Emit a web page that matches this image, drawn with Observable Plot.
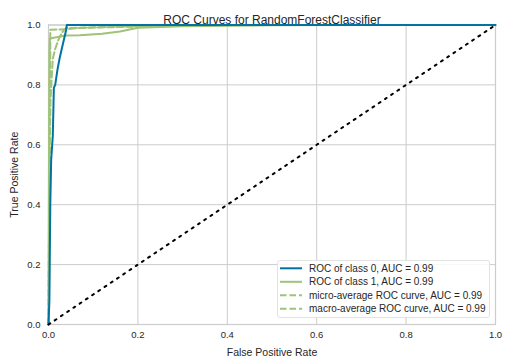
<!DOCTYPE html>
<html>
<head>
<meta charset="utf-8">
<script src="https://cdn.jsdelivr.net/npm/d3@7"></script>
<script src="https://cdn.jsdelivr.net/npm/@observablehq/plot@0.6"></script>
<style>
  html, body { margin: 0; padding: 0; background: #ffffff; }
  #wrap { position: relative; width: 512px; height: 361px; font-family: "Liberation Sans", Arial, sans-serif; }
  #legend { position: absolute; left: 277px; top: 260px; width: 213px; height: 58px;
            background: rgba(255,255,255,0.85); border: 1px solid #e3e3e3; border-radius: 3px; box-sizing: border-box; }
</style>
</head>
<body>
<div id="wrap"></div>
<script>
// ---- data ----
const title = "ROC Curves for RandomForestClassifier";
const xLabel = "False Positive Rate";
const yLabel = "True Positive Rate";
const tickValues = [0, 0.2, 0.4, 0.6, 0.8, 1.0];

const seriesNames = [
  "ROC of class 0, AUC = 0.99",
  "ROC of class 1, AUC = 0.99",
  "micro-average ROC curve, AUC = 0.99",
  "macro-average ROC curve, AUC = 0.99"
];
const seriesColors = ["#0272a2", "#9fc377", "#9fc377", "#9fc377"];
const seriesDash = [null, null, "6.5,3", "6.5,3"];

const fpr0 = [0, 0.002, 0.004, 0.006, 0.0096, 0.012, 0.015, 0.02, 0.025, 0.034, 0.039, 0.041, 1];
const tpr0 = [0, 0.08, 0.40, 0.55, 0.63, 0.79, 0.80, 0.85, 0.89, 0.948, 0.98, 1.0, 1];

const fpr1 = [0, 0.001, 0.002, 0.003, 0.038, 0.07, 0.12, 0.16, 0.2, 0.3, 0.5, 0.7, 1];
const tpr1 = [0, 0.5, 0.9, 0.955, 0.965, 0.966, 0.971, 0.978, 0.991, 0.996, 0.999, 1.0, 1];

const fprMicro = [0, 0.001, 0.002, 0.003, 0.004, 0.004, 0.04, 0.07, 0.2, 0.4, 1];
const tprMicro = [0, 0.3, 0.6, 0.8, 0.9, 0.984, 0.986, 0.99, 0.995, 1.0, 1];

const fprMacro = [0, 0.003, 0.0045, 0.007, 0.0096, 0.015, 0.022, 0.03, 0.04, 0.2, 0.4, 1];
const tprMacro = [0, 0.6, 0.75, 0.82, 0.887, 0.92, 0.95, 0.975, 0.99, 0.996, 1.0, 1];

const chanceFpr = [0, 1];
const chanceTpr = [0, 1];

// ---- build tables ----
const curves = [
  [fpr0, tpr0], [fpr1, tpr1], [fprMicro, tprMicro], [fprMacro, tprMacro]
].map(([xs, ys], i) => xs.map((x, j) => ({x, y: ys[j], s: seriesNames[i]})));
const chance = chanceFpr.map((x, j) => ({x, y: chanceTpr[j]}));

const lineMark = (i) => Plot.line(curves[i], {
  x: "x", y: "y", stroke: seriesColors[i], strokeWidth: 2,
  strokeDasharray: seriesDash[i] || undefined, curve: "linear"
});

const chart = Plot.plot({
  width: 512,
  height: 361,
  marginLeft: 48,
  marginRight: 17,
  marginTop: 24.5,
  marginBottom: 37,
  style: { fontFamily: "'Liberation Sans', Arial, sans-serif", fontSize: "10px", color: "#262626", background: "#ffffff" },
  x: { domain: [0, 1] },
  y: { domain: [0, 1] },
  marks: [
    Plot.gridX(tickValues, { stroke: "#cccccc", strokeOpacity: 1, strokeWidth: 1 }),
    Plot.gridY(tickValues, { stroke: "#cccccc", strokeOpacity: 1, strokeWidth: 1 }),
    Plot.frame({ stroke: "#cccccc", strokeWidth: 1.2 }),
    Plot.axisX(tickValues, { tickSize: 0, tickPadding: 7, tickFormat: d => d.toFixed(1), fontSize: 9.5, label: null }),
    Plot.axisY(tickValues, { tickSize: 0, tickPadding: 8, tickFormat: d => d.toFixed(1), fontSize: 9.5, label: null }),
    Plot.axisX({ ticks: [], tickSize: 0, label: xLabel, labelAnchor: "center", labelArrow: "none", labelOffset: 31, fontSize: 10.5 }),
    Plot.axisY({ ticks: [], tickSize: 0, label: yLabel, labelAnchor: "center", labelArrow: "none", labelOffset: 38, fontSize: 10.5 }),
    lineMark(2),
    lineMark(3),
    lineMark(1),
    lineMark(0),
    Plot.line(chance, { x: "x", y: "y", stroke: "#000000", strokeWidth: 2, strokeDasharray: "2,5.5" }),
    Plot.text([title], { frameAnchor: "top", dy: -10, fontSize: 12, fill: "#262626" })
  ]
});

const wrap = document.getElementById("wrap");
wrap.appendChild(chart);

// ---- legend ----
const legend = document.createElement("div");
legend.id = "legend";
wrap.appendChild(legend);
const lsvg = d3.select(legend).append("svg").attr("width", 213).attr("height", 58)
  .style("position", "absolute").style("left", "-1px").style("top", "-1px");
seriesNames.forEach((name, i) => {
  const cy = 8.3 + i * 13.5;
  lsvg.append("line").attr("x1", 3).attr("x2", 25).attr("y1", cy).attr("y2", cy)
    .attr("stroke", seriesColors[i]).attr("stroke-width", 2)
    .attr("stroke-dasharray", seriesDash[i]);
  lsvg.append("text").attr("x", 32).attr("y", cy).attr("dy", "0.35em")
    .attr("font-size", 10).attr("fill", "#262626")
    .attr("font-family", "'Liberation Sans', Arial, sans-serif").text(name);
});
</script>
</body>
</html>
